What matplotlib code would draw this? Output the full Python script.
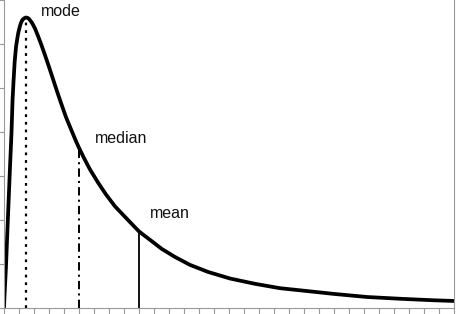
import matplotlib
matplotlib.use("Agg")
import matplotlib.pyplot as plt
from matplotlib.ticker import MultipleLocator

plt.rcParams["lines.scale_dashes"] = False
plt.rcParams["font.family"] = ["Liberation Sans", "DejaVu Sans"]

# skewed density curve
curve_x = [0, 0.02, 0.13, 0.22, 0.31, 0.40, 0.50, 0.57, 0.64, 0.71, 0.80, 0.87,
           0.95, 1.05, 1.13, 1.23, 1.33, 1.42, 1.50, 1.59, 1.67, 1.87, 2.07,
           2.27, 2.47, 2.73, 3.00, 3.27, 3.53, 3.80, 4.13, 4.47, 4.80, 5.00,
           5.33, 5.73, 6.27, 6.80, 7.40, 8.07, 9.00, 9.73, 10.53, 11.4, 12.4,
           13.6, 15.07, 16.73, 18.4, 20.07, 22.0, 24.2, 26.4, 28.67, 30.0]
curve_y = [0, 0.18, 0.93, 1.70, 2.45, 3.20, 3.98, 4.73, 5.18, 5.59, 5.93, 6.09,
           6.25, 6.39, 6.48, 6.55, 6.58, 6.60, 6.60, 6.59, 6.57, 6.48, 6.35,
           6.18, 6.00, 5.75, 5.48, 5.20, 4.93, 4.66, 4.34, 4.06, 3.79, 3.64,
           3.41, 3.15, 2.85, 2.58, 2.31, 2.07, 1.74, 1.55, 1.34, 1.16, 0.98,
           0.82, 0.67, 0.55, 0.45, 0.39, 0.32, 0.25, 0.21, 0.175, 0.16]

stat_names = ["mode", "median", "mean"]
stat_x = [1.47, 5.0, 9.0]
stat_y = [6.60, 3.64, 1.74]

fig = plt.figure(figsize=(4.74, 3.14), dpi=100)
ax = fig.add_axes([4 / 474, 6 / 314, 450 / 474, 308 / 314])

ax.plot(curve_x, curve_y, color="black", lw=2.7, solid_capstyle="round",
        solid_joinstyle="round")

styles = [(0, (2.0, 3.5)), (0, (6, 3, 1.5, 3)), "-"]
widths = [1.6, 1.4, 1.3]
for x, y, ls, w in zip(stat_x, stat_y, styles, widths):
    ax.plot([x, x], [0, y], color="black", lw=w, linestyle=ls)

ax.text(2.47, 6.75, stat_names[0], fontsize=11.5, va="center", color="#111111")
ax.text(6.07, 3.86, stat_names[1], fontsize=11.5, va="center", color="#111111")
ax.text(9.73, 2.14, stat_names[2], fontsize=11.5, va="center", color="#111111")

ax.set_xlim(0, 30)
ax.set_ylim(0, 7)
ax.xaxis.set_major_locator(MultipleLocator(1))
ax.yaxis.set_major_locator(MultipleLocator(1))
ax.set_xticklabels([])
ax.set_yticklabels([])
ax.tick_params(axis="both", direction="out", length=4, width=0.8,
               color="#999999")
ax.spines["top"].set_visible(False)
for s in ["left", "right", "bottom"]:
    ax.spines[s].set_color("#999999")
    ax.spines[s].set_linewidth(0.8)

plt.savefig("out.png", dpi=100)
